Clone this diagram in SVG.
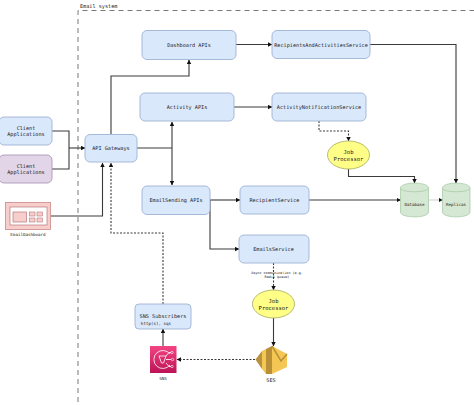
<svg xmlns="http://www.w3.org/2000/svg" width="474" height="405" viewBox="0 0 474 405">
<style>
text{font-family:"DejaVu Sans Mono","Liberation Mono",monospace;font-size:5.2px;fill:#222;text-anchor:middle}
.b{fill:#dae8fc;stroke:#9db2d4;stroke-width:.9}
.p{fill:#e1d5e7;stroke:#ac98b8;stroke-width:.9}
.y{fill:#ffff88;stroke:#a8a860;stroke-width:.8}
.g{fill:#d5e8d4;stroke:#a3c4a1;stroke-width:.7}
.c path{fill:none;stroke:#3a3a3a;stroke-width:1.100}
.c path.d{stroke-dasharray:2 1.500}
.s{font-size:4.200px}
.j{font-size:5.500px}
.t{font-size:3.450px}
.w{fill:none;stroke:#fff;stroke-width:.8}
</style>
<defs>
<marker id="a" markerUnits="userSpaceOnUse" markerWidth="5" markerHeight="5" refX="4" refY="2.500" orient="auto-start-reverse"><path d="M0 .3L4.300 2.500L0 4.700Z" fill="#111"/></marker>
<linearGradient id="sn" x1="0" y1="1" x2="0" y2="0"><stop offset="0" stop-color="#bc1356"/><stop offset="1" stop-color="#f34482"/></linearGradient>
</defs>
<rect width="474" height="405" fill="#fff"/>
<g id="boundary">
<path d="M78 402V10.500H474" fill="none" stroke="#555" stroke-width=".8" stroke-dasharray="5 4"/>
<text x="80" y="8" style="text-anchor:start">Email system</text>
</g>
<g class="c" id="connectors">
<path d="M111 134V76H189V60" marker-end="url(#a)"/>
<path d="M137 148H172"/>
<path d="M172 122V185" marker-start="url(#a)" marker-end="url(#a)"/>
<path d="M52 131H69V169H52"/>
<path d="M69 148H85" marker-end="url(#a)"/>
<path d="M51 216H102.500V163" marker-end="url(#a)"/>
<path class="d" d="M163 304V233H111V163" marker-end="url(#a)"/>
<path d="M236 44.500H272" marker-end="url(#a)"/>
<path d="M370 44.500H456V183" marker-end="url(#a)"/>
<path d="M234 107H272" marker-end="url(#a)"/>
<path class="d" d="M319 121V131H348.500V141" marker-end="url(#a)"/>
<path d="M348.500 169V176.500H414.500V183" marker-end="url(#a)"/>
<path d="M210 200H240" marker-end="url(#a)"/>
<path d="M210 200V249H239" marker-end="url(#a)"/>
<path d="M309 200H400.500" marker-end="url(#a)"/>
<path style="stroke:#999;stroke-width:.5" d="M429 200H442.500" marker-end="url(#a)"/>
<path class="d" d="M273.500 263V290" marker-end="url(#a)"/>
<path d="M273.500 318V346" marker-end="url(#a)"/>
<path class="d" d="M255 359.500H177" marker-end="url(#a)"/>
<path d="M163 346V329" marker-end="url(#a)"/>
</g>
<g id="dashboard-apis"><rect class="b" x="142" y="30.500" width="94" height="29" rx="5"/><text x="189" y="46.500">Dashboard APIs</text></g>
<g id="recipients-activities"><rect class="b" x="272" y="30.500" width="98" height="28" rx="5"/><text x="321" y="46.500">RecipientsAndActivitiesService</text></g>
<g id="activity-apis"><rect class="b" x="140" y="93" width="94" height="28" rx="5"/><text x="187" y="108.700">Activity APIs</text></g>
<g id="activity-notification"><rect class="b" x="272" y="93" width="94" height="28" rx="5"/><text x="319" y="108.700">ActivityNotificationService</text></g>
<g id="api-gateways"><rect class="b" x="85" y="134.500" width="52" height="27.500" rx="5"/><text x="111" y="150">API Gateways</text></g>
<g id="client-1"><rect class="b" x="-1" y="117" width="53" height="28" rx="5"/><text x="26" y="129.800">Client</text><text x="26" y="135.800">Applications</text></g>
<g id="client-2"><rect class="p" x="-1" y="155" width="53" height="28" rx="5"/><text x="26" y="167.800">Client</text><text x="26" y="173.800">Applications</text></g>
<g id="emailsending-apis"><rect class="b" x="142" y="186" width="68" height="28.500" rx="5"/><text x="176" y="202">EmailSending APIs</text></g>
<g id="recipient-service"><rect class="b" x="240" y="186" width="69" height="28" rx="5"/><text x="274.500" y="202">RecipientService</text></g>
<g id="emails-service"><rect class="b" x="239" y="235" width="70" height="28" rx="5"/><text x="273.500" y="250.500">EmailsService</text></g>
<g id="job-1"><ellipse class="y" cx="348.500" cy="155" rx="21" ry="14"/><text class="j" x="348.500" y="154">Job</text><text class="j" x="348.500" y="160.700">Processor</text></g>
<g id="job-2"><ellipse class="y" cx="273.500" cy="304" rx="21" ry="14"/><text class="j" x="273.500" y="303">Job</text><text class="j" x="273.500" y="309.700">Processor</text></g>
<g id="async-label"><text class="t" x="277" y="274">Async communication (e.g.</text><text class="t" x="277" y="278">Redis queue)</text></g>
<g id="database"><path class="g" d="M400.500 188c0-6.500 28-6.500 28 0v24c0 6.500-28 6.500-28 0z"/><path class="g" d="M400.500 188c0 5 28 5 28 0" fill="none"/><text x="414.500" y="206" class="s">Database</text></g>
<g id="replicas"><path class="g" d="M442.500 188c0-6.500 27.500-6.500 27.500 0v24c0 6.500-27.500 6.500-27.500 0z"/><path class="g" d="M442.500 188c0 5 27.500 5 27.500 0" fill="none"/><text x="456" y="206" class="s">Replicas</text></g>
<g id="email-dashboard"><rect x="5.500" y="202.500" width="45" height="27" fill="#f8cecc" stroke="#c98a88" stroke-width=".8"/><rect x="10" y="207" width="37" height="18" fill="#fff" stroke="#a66" stroke-width=".6"/><rect x="13" y="212" width="13.500" height="10" fill="#f8cecc" stroke="#a66" stroke-width=".6"/><rect x="29.500" y="212" width="5.500" height="4" fill="#f8cecc" stroke="#a66" stroke-width=".5"/><rect x="37" y="212" width="5.500" height="4" fill="#f8cecc" stroke="#a66" stroke-width=".5"/><rect x="29.500" y="218" width="5.500" height="4" fill="#f8cecc" stroke="#a66" stroke-width=".5"/><rect x="37" y="218" width="5.500" height="4" fill="#f8cecc" stroke="#a66" stroke-width=".5"/><text class="s" x="28" y="235.500">EmailDashboard</text></g>
<g id="sns-subscribers"><rect class="b" x="135" y="304" width="56" height="25" rx="4"/><text x="163" y="318">SNS Subscribers</text><text class="s" x="156" y="324.500">http(s), sqs</text></g>
<g id="sns"><rect x="150" y="346" width="26.500" height="27" fill="url(#sn)"/><path class="w" d="M170 354A9 9 0 1 0 170 365"/><path class="w" d="M159 356h7l-2.500 7h-2zM166 359.500h5M166 356l3-3.500h2M166 363l3 3.500h2"/><circle cx="172" cy="352.500" r="1.200" fill="none" stroke="#fff" stroke-width=".6"/><circle cx="172.500" cy="359.500" r="1.200" fill="none" stroke="#fff" stroke-width=".6"/><circle cx="172" cy="366.500" r="1.200" fill="none" stroke="#fff" stroke-width=".6"/><text class="s" x="163" y="380">SNS</text></g>
<g id="ses"><path d="M255.500 359.500L262 351V369Z" fill="#b8913c"/><path d="M262 351L266 349V374L262 369Z" fill="#f4c653"/><path d="M266 349L272 346V374L266 374Z" fill="#b98f38"/><path d="M272 346L287 354V367L272 374Z" fill="#f4c653"/><path d="M272 346L281 361L287 354" fill="none" stroke="#b98f38" stroke-width="1.500"/><text x="271" y="382">SES</text></g>
</svg>
